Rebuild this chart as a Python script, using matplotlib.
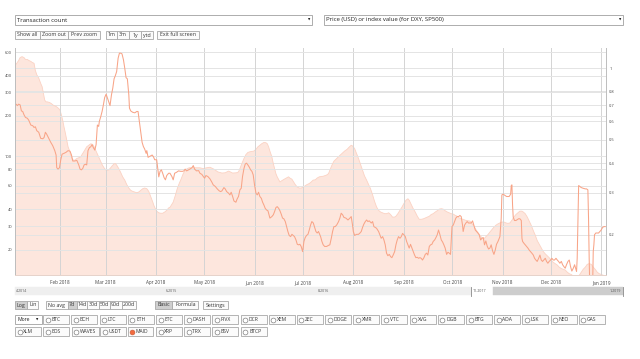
import numpy as np
import matplotlib
matplotlib.use('Agg')
import matplotlib.pyplot as plt
import matplotlib.dates as mdates
from matplotlib.patches import Rectangle
from matplotlib.lines import Line2D
from matplotlib.ticker import FixedLocator, NullLocator, FuncFormatter

plt.rcParams['font.family'] = ['Open Sans', 'DejaVu Sans']

# ---------------- data (day offsets from 2018-01-01) ----------------
tx_points = [
    (3.1,242),(3.7,245),(4.5,239),(5.3,245),(6.2,242),(7.0,218),(7.8,216),(8.6,204),(9.5,195),(10.7,192),
    (11.5,186),(12.8,171),(14.0,169),(14.8,164),(15.6,166),(16.5,155),(17.7,151),(18.9,136),(20.2,135),(21.0,138),
    (21.8,151),(22.6,146),(23.9,136),(25.1,127),(26.3,120),(27.6,110),(28.4,102),(28.8,82),(29.6,80),(30.5,82),
    (31.3,94),(32.1,103.5),(33.3,105),(34.6,107),(35.8,110),(37.0,109),(37.9,102),(38.7,92),(39.9,92),(41.2,93),
    (42.4,86),(43.2,80),(44.0,79),(44.9,81),(45.7,86),(46.5,87),(47.3,86),(48.1,110),(49.0,116),(49.8,117.5),
    (50.6,122),(51.4,116),(52.3,111),(53.1,122),(53.9,171),(54.7,167),(55.1,182),(56.0,198),(56.8,216),(57.6,242),
    (58.4,275),(59.3,291),(60.1,272),(60.9,254),(61.7,239),(62.6,288),(63.4,323),(64.2,379),(65.0,401),(65.8,430),
    (66.7,541),(67.5,590),(68.3,590),(69.1,583),(70.0,526),(70.8,455),(71.6,387),(72.4,379),(73.3,288),(73.7,229),
    (74.5,218),(75.7,213),(77.0,211),(78.2,216),(79.0,216),(79.8,182),(80.7,149),(81.5,127),(82.3,118),(83.1,113),
    (84.0,105),(84.4,110),(85.2,98),(86.4,100),(87.7,102),(88.5,99),(89.3,94),(90.5,94),(91.4,77),(91.8,70),
    (92.6,77),(93.4,79),(94.2,74.5),(95.1,69),(95.9,66.5),(96.7,71.6),(97.9,74.5),
    (98.7,74.5),(99.9,70.4),(100.7,66.5),(101.6,74.5),(102.8,75.8),(104.0,77.6),(105.3,77),(106.5,77),(107.3,77.6),
    (108.1,80),(109.0,77.6),(110.2,79),(111.0,80),(112.3,82),(113.1,85),(113.9,80),(115.1,77.6),(116.4,78),
    (117.2,74.5),(118.4,73),(119.3,70.4),(120.1,68.4),(120.9,71.6),(122.1,70.4),(123.4,67.6),(124.6,63.8),
    (125.4,61),(126.7,59.3),(127.9,56.9),(129.1,55),(130.0,54.3),(130.8,55),(132.0,58.2),(132.8,56.9),(133.7,54.3),
    (134.9,52.8),(135.7,51.3),(136.5,53.7),(137.4,49.9),(138.2,46.2),(139.4,45.2),(140.2,47.9),(141.0,49.9),
    (141.9,56),(142.7,57.5),(143.5,70.4),(144.4,81),(145.2,87.5),(146.0,88.6),(146.8,86),(147.6,83),(148.5,79),
    (149.3,77),(150.1,72.4),(150.9,61),(151.8,52.8),(152.6,51.3),(153.4,53.7),(154.2,49.9),(155.1,48.4),
    (155.9,45.2),(156.7,43.1),(157.5,40.7),(158.3,39.6),(159.2,39),(160.4,34.4),(161.6,35.3),(162.5,36.4),
    (163.3,38.5),(164.1,41.2),(164.9,41.9),(165.8,40.7),(166.6,39),(167.4,36.8),(168.2,34.4),(169.0,34),
    (169.9,32.4),(170.7,29.7),(171.5,27.3),(172.3,25.5),(173.2,25),(174.0,26),(174.8,25.5),(175.6,25),
    (176.5,23.6),(177.3,21.9),(178.1,21.7),(178.9,21.9),(179.7,21.1),(180.6,19.3),(181.4,23),(182.2,24.6),
    (183.0,25.5),(183.9,26),(184.7,28),(185.5,30.5),(186.3,32.4),(187.2,31.6),(188.0,29.3),(188.8,27.3),
    (189.6,26.6),(190.4,27.3),
    (191.7,25),(192.5,23),(193.3,21.7),(194.2,21.1),(195.4,21.1),(196.6,21.5),(197.4,21.7),(198.3,24.3),
    (199.1,27.3),(199.9,29.7),(200.7,29.7),(201.6,30.5),(202.8,32.4),(203.6,34.4),(204.4,37.4),(205.3,36.4),
    (206.1,34.8),(207.3,34.4),(208.6,33.3),(209.8,34.4),(210.6,35.3),(211.4,30.5),(211.9,27.3),(212.7,25.5),
    (213.9,26),(215.1,26),(216.0,26.6),(216.8,27.3),(217.6,29.3),(218.4,31),(219.3,32.4),(220.1,33.3),
    (220.9,32.4),(221.7,32.8),(223.0,31.6),(223.8,32.4),(224.6,29.7),(225.4,29.3),(226.2,28.9),(227.5,27.3),
    (228.3,25.8),(229.1,24.3),(230.0,25),(230.8,23.6),(231.6,21.7),(232.4,18.8),(233.2,18),(234.1,18.4),
    (234.9,17.7),(235.7,17.4),(236.5,18.2),(237.4,19.3),(238.2,21.7),(239.0,23.6),(239.8,25),(240.7,24.3),
    (241.5,25),(242.3,26.4),(243.1,25.8),(244.0,25),(244.8,23),(245.6,21.7),(246.4,20.5),(247.2,21.9),
    (248.1,20.5),(248.9,19.3),(249.7,18.2),(250.5,17.4),(251.4,17.5),(252.2,17.2),(253.0,17.4),(253.8,17.2),
    (254.6,16.7),(255.5,17.4),(256.3,18.4),(257.1,18.8),(257.9,18.2),(258.8,21.1),(259.6,21.7),(260.4,21.9),
    (261.2,23),(262.1,23.6),(262.9,24.6),(263.7,25.8),(264.5,28),(265.3,26),(266.2,23.6),(267.0,22.8),
    (267.8,21.7),(268.6,20.5),(269.5,18.4),(270.3,19.1),(271.1,18.8),(271.9,18.4),(272.8,29.7),(273.6,30.5),
    (274.4,32.4),(275.2,34.4),(276.0,35.3),(276.9,35.3),(277.7,36),(278.5,35.3),(279.3,30.5),(279.7,27.3),
    (280.6,30.5),(281.4,31.6),(282.2,32.4),(283.0,31.6),
    (283.9,31.6),(284.7,31.6),(285.5,32.8),(286.3,30.5),(287.2,28),(288.0,27.3),(288.8,26.6),(289.6,25.8),
    (290.5,23.6),(291.3,24.3),(292.1,24.6),(292.9,21.7),(293.7,23.2),(294.6,21.1),(295.4,20.2),(296.2,20.5),
    (297.0,21.7),(297.9,19.5),(298.7,18.4),(299.5,19.8),(300.3,21.9),(301.2,23),(302.0,24.3),(302.4,25),
    (303.2,34.4),(303.6,51.3),(304.4,51.9),(305.7,50.7),(306.5,49.9),(307.3,49.9),(308.1,49.9),(309.0,51.9),
    (309.4,60.3),(309.8,61),(310.2,43.1),(310.6,35),(311.4,33),(312.3,33),(313.1,33.5),(313.9,34),
    (314.7,34),(315.6,33),(316.0,24.3),(316.4,23),(317.2,22.3),(318.0,21.7),(318.8,21.1),(319.7,20.5),
    (320.5,19.8),(321.3,19.3),(322.1,18.8),(323.0,18.2),(323.8,17.2),(324.6,16.7),(325.4,16.3),(326.3,17.2),
    (327.1,18.2),(327.9,16.7),(328.7,16.3),(329.5,16.7),(330.4,17.2),(331.2,16.3),(332.0,15.8),(332.8,16.3),
    (333.7,16.7),(334.5,17.2),(335.3,16.7),(336.1,16.7),(337.0,17.2),(337.8,16.7),(338.6,16.3),(339.4,15.8),
    (340.3,16.3),(341.1,15.4),(341.9,14.9),(342.7,14.5),(343.5,15.4),(344.4,16.3),(345.2,16.7),(346.0,14.9),
    (346.8,13.8),(347.7,14.5),(348.5,15.4),(349.3,14.3),(349.7,13.7),(350.1,17.2),(351.0,60.3),(351.8,59.3),
    (352.6,58.2),(353.8,57.5),(355.1,56.9),(355.9,56.9),(356.7,55.9),(357.1,34.4),(357.5,17.2),(357.9,10),
    (358.8,10),(359.6,10),(360.0,19.3),(360.4,21.7),(360.8,25.8),(361.6,26.6),(362.5,26.6),(363.3,26.6),
    (364.1,27.3),(364.9,28),(365.8,29.3),(366.6,29.7),(367.4,29.7),
]
tx_day = [p[0] for p in tx_points]
tx_count = [p[1] for p in tx_points]

price_points = [
    (3.1,1.03),(4.1,1.05),(5.3,1.08),(6.2,1.11),(7.4,1.12),(8.6,1.11),(9.5,1.09),(10.7,1.09),(11.5,1.08),
    (12.8,1.07),(13.6,1.06),(14.8,1.05),(15.6,0.98),(16.5,0.94),(17.7,0.91),(18.9,0.865),(19.8,0.837),
    (20.6,0.785),(21.4,0.735),(22.2,0.723),(23.0,0.723),(24.3,0.719),(25.5,0.711),(26.7,0.70),(28.0,0.693),
    (28.8,0.689),(30.0,0.678),(30.9,0.667),(31.7,0.635),(32.5,0.605),(33.3,0.567),(34.2,0.532),(35.0,0.499),
    (35.8,0.468),(36.6,0.453),(37.4,0.431),(38.3,0.418),(39.1,0.411),(39.9,0.411),(41.2,0.418),(42.4,0.421),
    (43.6,0.425),(44.9,0.439),(46.1,0.453),(47.3,0.468),(48.6,0.475),(49.8,0.482),(51.0,0.479),(51.9,0.468),
    (53.1,0.449),(54.3,0.431),(55.6,0.411),(56.8,0.394),(58.0,0.382),(59.3,0.373),(60.5,0.373),(61.7,0.379),
    (63.0,0.389),(64.2,0.397),(65.0,0.398),(65.8,0.392),(67.1,0.379),(68.3,0.365),(69.5,0.35),(70.8,0.339),
    (72.0,0.325),(73.3,0.314),(74.5,0.307),(75.7,0.304),(77.0,0.302),(78.2,0.30),(79.4,0.302),(80.7,0.307),
    (81.9,0.312),(83.1,0.314),(84.4,0.312),(85.6,0.304),(86.4,0.294),(87.2,0.285),(88.1,0.274),(88.9,0.264),
    (89.7,0.257),(90.5,0.251),(91.8,0.247),(93.0,0.246),(94.2,0.246),(95.5,0.249),(96.7,0.253),(97.9,0.259),
    (98.8,0.261),(100.7,0.274),(102.0,0.292),(103.2,0.312),(104.4,0.328),(105.7,0.344),(106.9,0.361),
    (108.1,0.373),(109.4,0.379),(110.6,0.382),(113.1,0.382),(117.2,0.382),(119.2,0.379),(121.3,0.382),
    (123.4,0.384),(125.8,0.377),(128.3,0.367),(130.8,0.363),(132.8,0.364),(134.9,0.37),(137.4,0.363),
    (139.8,0.364),(141.0,0.367),(141.9,0.379),(143.1,0.398),(144.4,0.418),(145.6,0.434),(146.8,0.443),
    (148.0,0.446),(150.5,0.449),(151.8,0.457),(153.0,0.468),(154.2,0.475),(155.5,0.483),(156.7,0.488),
    (157.9,0.487),(158.8,0.482),(159.6,0.468),(160.4,0.449),(161.6,0.425),(162.5,0.398),(163.3,0.379),
    (164.1,0.361),(164.9,0.35),(165.7,0.342),(166.6,0.333),(167.4,0.336),(168.6,0.34),(169.9,0.344),
    (171.9,0.35),(172.7,0.346),(174.0,0.342),(174.8,0.335),(176.0,0.325),(177.3,0.317),(178.5,0.314),
    (179.7,0.314),(181.0,0.317),(182.2,0.321),(183.4,0.325),(184.7,0.328),(185.9,0.333),(187.1,0.339),
    (188.4,0.34),(189.6,0.346),(190.9,0.35),(193.3,0.352),(195.4,0.356),(196.6,0.361),(197.4,0.373),
    (198.7,0.392),(199.9,0.407),(201.6,0.418),(203.2,0.428),(204.9,0.439),(206.5,0.449),(208.1,0.457),
    (209.4,0.467),(210.6,0.475),(211.4,0.472),(212.7,0.46),(213.9,0.439),(215.1,0.418),(216.4,0.394),
    (217.6,0.373),(218.8,0.353),(220.1,0.339),(221.3,0.325),(222.5,0.312),(223.8,0.294),(225.0,0.276),
    (226.3,0.261),(227.5,0.253),(228.7,0.249),(230.0,0.247),(231.2,0.245),(232.4,0.245),(233.7,0.247),
    (234.9,0.243),(236.1,0.237),(237.4,0.237),(238.2,0.239),(239.4,0.245),(240.7,0.253),(241.9,0.261),
    (243.1,0.27),(244.4,0.279),(245.6,0.283),(246.4,0.279),(247.6,0.268),(248.9,0.257),(250.1,0.249),
    (251.4,0.239),(252.6,0.232),(253.8,0.232),(255.1,0.233),(256.3,0.235),(257.5,0.237),(258.8,0.239),
    (260.0,0.243),(261.2,0.245),(262.5,0.249),(263.7,0.252),(264.9,0.256),(266.2,0.257),(267.4,0.256),
    (268.6,0.252),(269.9,0.249),(271.1,0.247),(272.3,0.245),(273.6,0.244),(274.8,0.241),(276.0,0.239),
    (277.3,0.235),(278.5,0.233),(279.7,0.232),(281.0,0.23),(282.2,0.229),(283.9,0.228),(285.9,0.219),
    (288.0,0.208),(290.0,0.199),(291.3,0.194),(292.5,0.192),(293.7,0.196),(295.0,0.2),(296.2,0.205),
    (297.5,0.21),(298.7,0.215),(299.9,0.219),(301.2,0.222),(302.4,0.224),(303.6,0.226),(304.9,0.226),
    (306.1,0.224),(307.3,0.223),(308.6,0.224),(309.8,0.23),(311.0,0.237),(312.3,0.243),(313.5,0.247),
    (314.7,0.251),(316.0,0.251),(316.8,0.249),(318.0,0.245),(319.3,0.237),(320.5,0.228),(321.7,0.219),
    (323.0,0.208),(324.2,0.199),(325.4,0.189),(326.7,0.182),(327.9,0.176),(329.1,0.17),(330.4,0.166),
    (331.6,0.163),(332.8,0.16),(334.1,0.156),(335.3,0.153),(336.5,0.151),(337.8,0.149),(339.0,0.146),
    (340.3,0.144),(341.5,0.143),(342.7,0.142),(344.0,0.139),(345.2,0.137),(346.4,0.136),(347.7,0.134),
    (348.9,0.133),(350.1,0.133),(351.4,0.135),(352.6,0.139),(353.8,0.143),(355.1,0.146),(356.3,0.15),
    (357.5,0.151),(358.8,0.15),(360.0,0.146),(361.2,0.143),(362.5,0.139),(363.7,0.137),(364.9,0.136),
    (366.2,0.135),(367.4,0.134),
]
price_day = [p[0] for p in price_points]
price_usd = [p[1] for p in price_points]

left_ticks = [20, 30, 40, 60, 80, 100, 200, 300, 400, 600]
right_ticks = [0.2, 0.3, 0.4, 0.5, 0.6, 0.7, 0.8, 1]

assets_row1 = ["BTC", "BCH", "LTC", "ETH", "ETC", "DASH", "PIVX", "DCR", "XEM", "ZEC",
               "DOGE", "XMR", "VTC", "XVG", "DGB", "BTG", "ADA", "LSK", "NEO", "GAS"]
assets_row2 = ["XLM", "EOS", "WAVES", "USDT", "MAID", "XRP", "TRX", "BSV", "BTCP"]
selected_asset = "MAID"

# ---------------- figure ----------------
W, H = 640, 359
fig = plt.figure(figsize=(W / 100, H / 100), dpi=100)
fig.patch.set_facecolor('white')

def fx(x):
    return x / W

def fy(y):
    return 1 - y / H

L, R, T, B = 15, 605.7, 48, 275
ax1 = fig.add_axes([fx(L), fy(B), (R - L) / W, (B - T) / H])
ax2 = ax1.twinx()
ax1.set_zorder(2)
ax2.set_zorder(1)
ax1.patch.set_visible(False)
ax2.patch.set_visible(True)
ax2.patch.set_facecolor('white')

base = mdates.datestr2num('2018-01-01')
tx_x = base + np.array(tx_day)
px_x = base + np.array(price_day)

LINE = '#f8a487'
ax2.fill_between(px_x, price_usd, 0.01, color='#fcc9b5', alpha=0.45, lw=0)
ax2.plot(px_x, price_usd, color='#fbd2c3', lw=0.6)
ax1.plot(tx_x, tx_count, color=LINE, lw=0.75)

ax1.set_yscale('log')
ax2.set_yscale('log')
ax1.set_ylim(12.9, 645)
ax2.set_ylim(0.1353, 1.218)
ax1.set_xlim(base + 3.04, base + 367.7)

ax1.yaxis.set_major_locator(FixedLocator(left_ticks))
ax1.yaxis.set_minor_locator(NullLocator())
ax1.yaxis.set_major_formatter(FuncFormatter(lambda v, p: '%g' % v))
ax2.yaxis.set_major_locator(FixedLocator(right_ticks))
ax2.yaxis.set_minor_locator(NullLocator())
ax2.yaxis.set_major_formatter(FuncFormatter(lambda v, p: '%g' % v))

ax1.xaxis.set_major_locator(mdates.MonthLocator())
ax1.xaxis.set_major_formatter(mdates.DateFormatter('%b %Y'))
ax1.xaxis.set_minor_locator(NullLocator())

ax1.tick_params(axis='y', length=0, labelsize=2.9, pad=2, labelcolor='#444444')
ax2.tick_params(axis='y', length=0, labelsize=2.9, pad=2.5, labelcolor='#444444')
ax1.tick_params(axis='x', length=0, labelsize=3.3, pad=3.5, labelcolor='#444444')

ax1.grid(axis='x', color='#d4d4d4', lw=0.7)
ax1.grid(axis='y', color='#e4e4e4', lw=0.7)
ax2.grid(axis='y', color='#e4e4e4', lw=0.7)

for s in ['top', 'right']:
    ax1.spines[s].set_visible(False)
ax1.spines['left'].set_color('#bdbdbd')
ax1.spines['left'].set_linewidth(0.7)
ax1.spines['bottom'].set_color('#e6d2ca')
ax1.spines['bottom'].set_linewidth(0.7)
for s in ['top', 'left', 'bottom']:
    ax2.spines[s].set_visible(False)
ax2.spines['right'].set_color('#bdbdbd')
ax2.spines['right'].set_linewidth(0.7)

# ---------------- UI widgets ----------------
def box(x0, x1, y0, y1, fc='#fbfbfb', ec='#a8a8a8', lw=0.6):
    fig.add_artist(Rectangle((fx(x0), fy(y1)), (x1 - x0) / W, (y1 - y0) / H,
                             transform=fig.transFigure, facecolor=fc, edgecolor=ec, lw=lw))

def button(label, x0, x1, y0, y1, active=False, fs=3.8):
    box(x0, x1, y0, y1, fc='#cfcfcf' if active else '#fbfbfb')
    fig.text(fx((x0 + x1) / 2), fy((y0 + y1) / 2), label, ha='center', va='center',
             fontsize=fs, color='#333333')

def dropdown(label, x0, x1, y0, y1, fs=4.3):
    box(x0, x1, y0, y1, fc='white', ec='#a0a0a0')
    fig.text(fx(x0 + 2), fy((y0 + y1) / 2), label, ha='left', va='center',
             fontsize=fs, color='#222222')
    fig.text(fx(x1 - 3), fy((y0 + y1) / 2), '\u25BC', ha='center', va='center',
             fontsize=2.2, color='#111111', family=['DejaVu Sans'])

def radio(label, x0, x1, y0, y1, selected=False, fs=3.6):
    box(x0, x1, y0, y1, fc='#fbfbfb')
    cy = (y0 + y1) / 2
    fig.add_artist(Line2D([fx(x0 + 4.5)], [fy(cy)], marker='o', markersize=3.5,
                          mfc='#f26b3f' if selected else 'white',
                          mec='#c85a36' if selected else '#666666', mew=0.4,
                          transform=fig.transFigure, ls='none'))
    fig.text(fx(x0 + 8.3), fy(cy), label, ha='left', va='center', fontsize=fs, color='#333333')

dropdown('Transaction count', 15, 312, 15, 25)
dropdown('Price (USD) or index value (for DXY, SP500)', 324, 623, 15, 25)

y0, y1 = 30.7, 39.3
for lab, a, b in [('Show all', 15, 40), ('Zoom out', 40, 68), ('Prev zoom', 68, 100),
                  ('1m', 106, 117), ('3m', 117, 129), ('1y', 129, 141), ('ytd', 141, 153),
                  ('Exit full screen', 157, 199)]:
    button(lab, a, b, y0, y1)

# range selector
box(15, 470.7, 287, 295, fc='#efefef', ec='#efefef', lw=0.3)
box(493, 622.5, 287, 295, fc='#cdcdcd', ec='#cdcdcd', lw=0.3)
fig.add_artist(Line2D([fx(470.7), fx(470.7)], [fy(286.5), fy(295.5)], color='#888888', lw=0.6,
                      transform=fig.transFigure))
fig.add_artist(Line2D([fx(622.5), fx(622.5)], [fy(286.5), fy(295.5)], color='#888888', lw=0.6,
                      transform=fig.transFigure))
for lab, x, ha in [('4-2014', 16, 'left'), ('6-2015', 166, 'left'), ('8-2016', 318, 'left'),
                   ('11-2017', 472.5, 'left'), ('1-2019', 621, 'right')]:
    fig.text(fx(x), fy(291.2), lab, ha=ha, va='center', fontsize=2.5, color='#555555')

y0, y1 = 300.7, 309.3
for lab, a, b, act in [('Log', 15, 27.3, True), ('Lin', 27.3, 38.3, False),
                       ('No avg', 45.7, 67.7, False), ('7d', 67.7, 76.7, True),
                       ('14d', 76.7, 87.3, False), ('30d', 87.3, 98.7, False),
                       ('50d', 98.7, 110, False), ('90d', 110, 121.7, False),
                       ('200d', 121.7, 135.7, False), ('Basic', 155, 172.3, True),
                       ('Formula', 172.3, 198.3, False), ('Settings', 202.7, 228.3, False)]:
    button(lab, a, b, y0, y1, active=act)

# asset rows
y0, y1 = 315, 324
box(15, 41.7, y0, y1, fc='white', ec='#a0a0a0')
fig.text(fx(17), fy((y0 + y1) / 2), 'More', ha='left', va='center', fontsize=3.7, color='#222222')
fig.text(fx(37.5), fy((y0 + y1) / 2), '\u25BC', ha='center', va='center', fontsize=2.2,
         color='#111111', family=['DejaVu Sans'])
for i, name in enumerate(assets_row1):
    x0 = 43.3 + 28.18 * i
    radio(name, x0, x0 + 26, y0, y1, selected=(name == selected_asset))

y0, y1 = 327.3, 336
row2_x = [(15, 40.7), (43.3, 69.3), (71.7, 99), (100, 126), (127.7, 153.3), (156, 181.7),
          (184, 210), (212.3, 238.3), (240.7, 266.7)]
for name, (a, b) in zip(assets_row2, row2_x):
    radio(name, a, b, y0, y1, selected=(name == selected_asset))

fig.savefig('out.png', dpi=100, facecolor='white')
